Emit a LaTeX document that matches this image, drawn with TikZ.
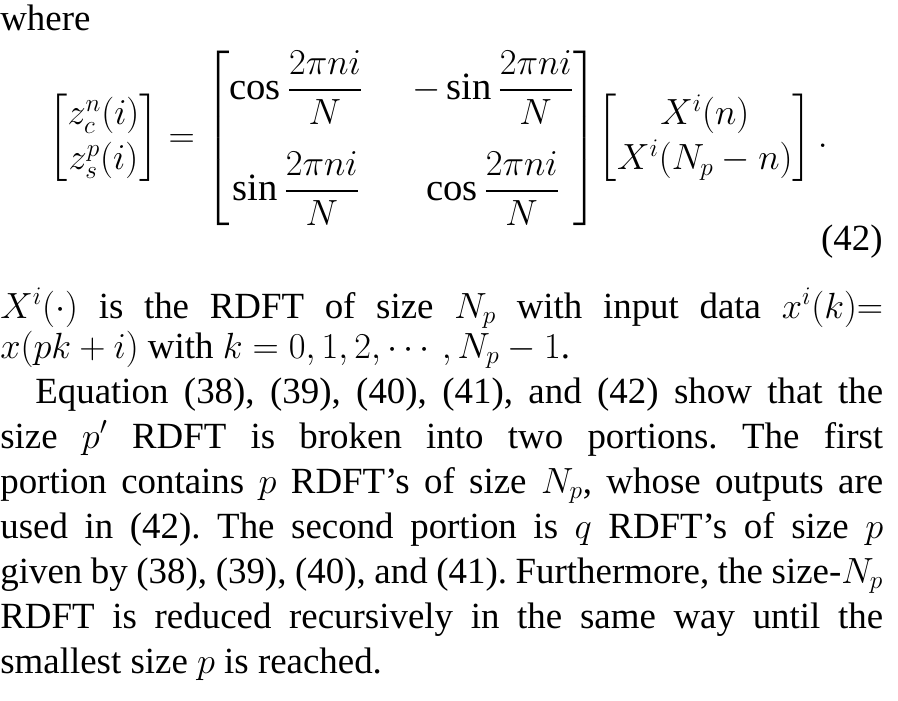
\documentclass[tikz,border=0pt]{standalone}
\usepackage{amsmath}
\usepackage{fontspec}
\setmainfont{Liberation Serif}
\newcommand{\txtline}[1]{\hbox to 17.66cm{#1}}
\begin{document}
\frenchspacing
\begin{tikzpicture}[x=0.02cm,y=-0.02cm,
  txt/.style={anchor=base west,inner sep=0pt,font=\fontsize{21}{24}\selectfont}]
\useasboundingbox (0,0) rectangle (898,700);
\node[txt] (where) at (0,30) {where};
\node[anchor=center,inner sep=0pt,font=\fontsize{22}{26}\selectfont] (eq) at (438,138)
  {$\setlength{\arraycolsep}{14pt}\begin{bmatrix} z_c^n(i)\\ z_s^p(i)\end{bmatrix}=
   \begin{bmatrix}\cos\dfrac{2\pi ni}{N} & -\sin\dfrac{2\pi ni}{N}\\[22pt]
   \sin\dfrac{2\pi ni}{N} & \cos\dfrac{2\pi ni}{N}\end{bmatrix}\!
   \begin{bmatrix} X^i(n)\\ X^i(N_p-n)\end{bmatrix}.$};
\node[txt,anchor=base east] (num) at (883,250) {(42)};
\node[txt] (l1) at (0,318) {\txtline{$X^i(\cdot)$ is the RDFT of size $N_p$ with input data $x^i(k)\mathord{=}$}};
\node[txt] (l2) at (0,358) {$x(pk+i)$ with $k=0,1,2,\cdots,N_p-1$.};
\node[txt] (l3) at (35,403) {\hbox to 16.96cm{Equation (38), (39), (40), (41), and (42) show that the}};
\node[txt] (l4) at (0,448) {\txtline{size $p'$ RDFT is broken into two portions. The first}};
\node[txt] (l5) at (0,493) {\txtline{portion contains $p$ RDFT's of size $N_p$, whose outputs are}};
\node[txt] (l6) at (0,538) {\txtline{used in (42). The second portion is $q$ RDFT's of size $p$}};
\node[txt] (l7) at (0,583) {\txtline{given by (38), (39), (40), and (41). Furthermore, the size-$N_p$}};
\node[txt] (l8) at (0,628) {\txtline{RDFT is reduced recursively in the same way until the}};
\node[txt] (l9) at (0,673) {smallest size $p$ is reached.};
\end{tikzpicture}
\end{document}
